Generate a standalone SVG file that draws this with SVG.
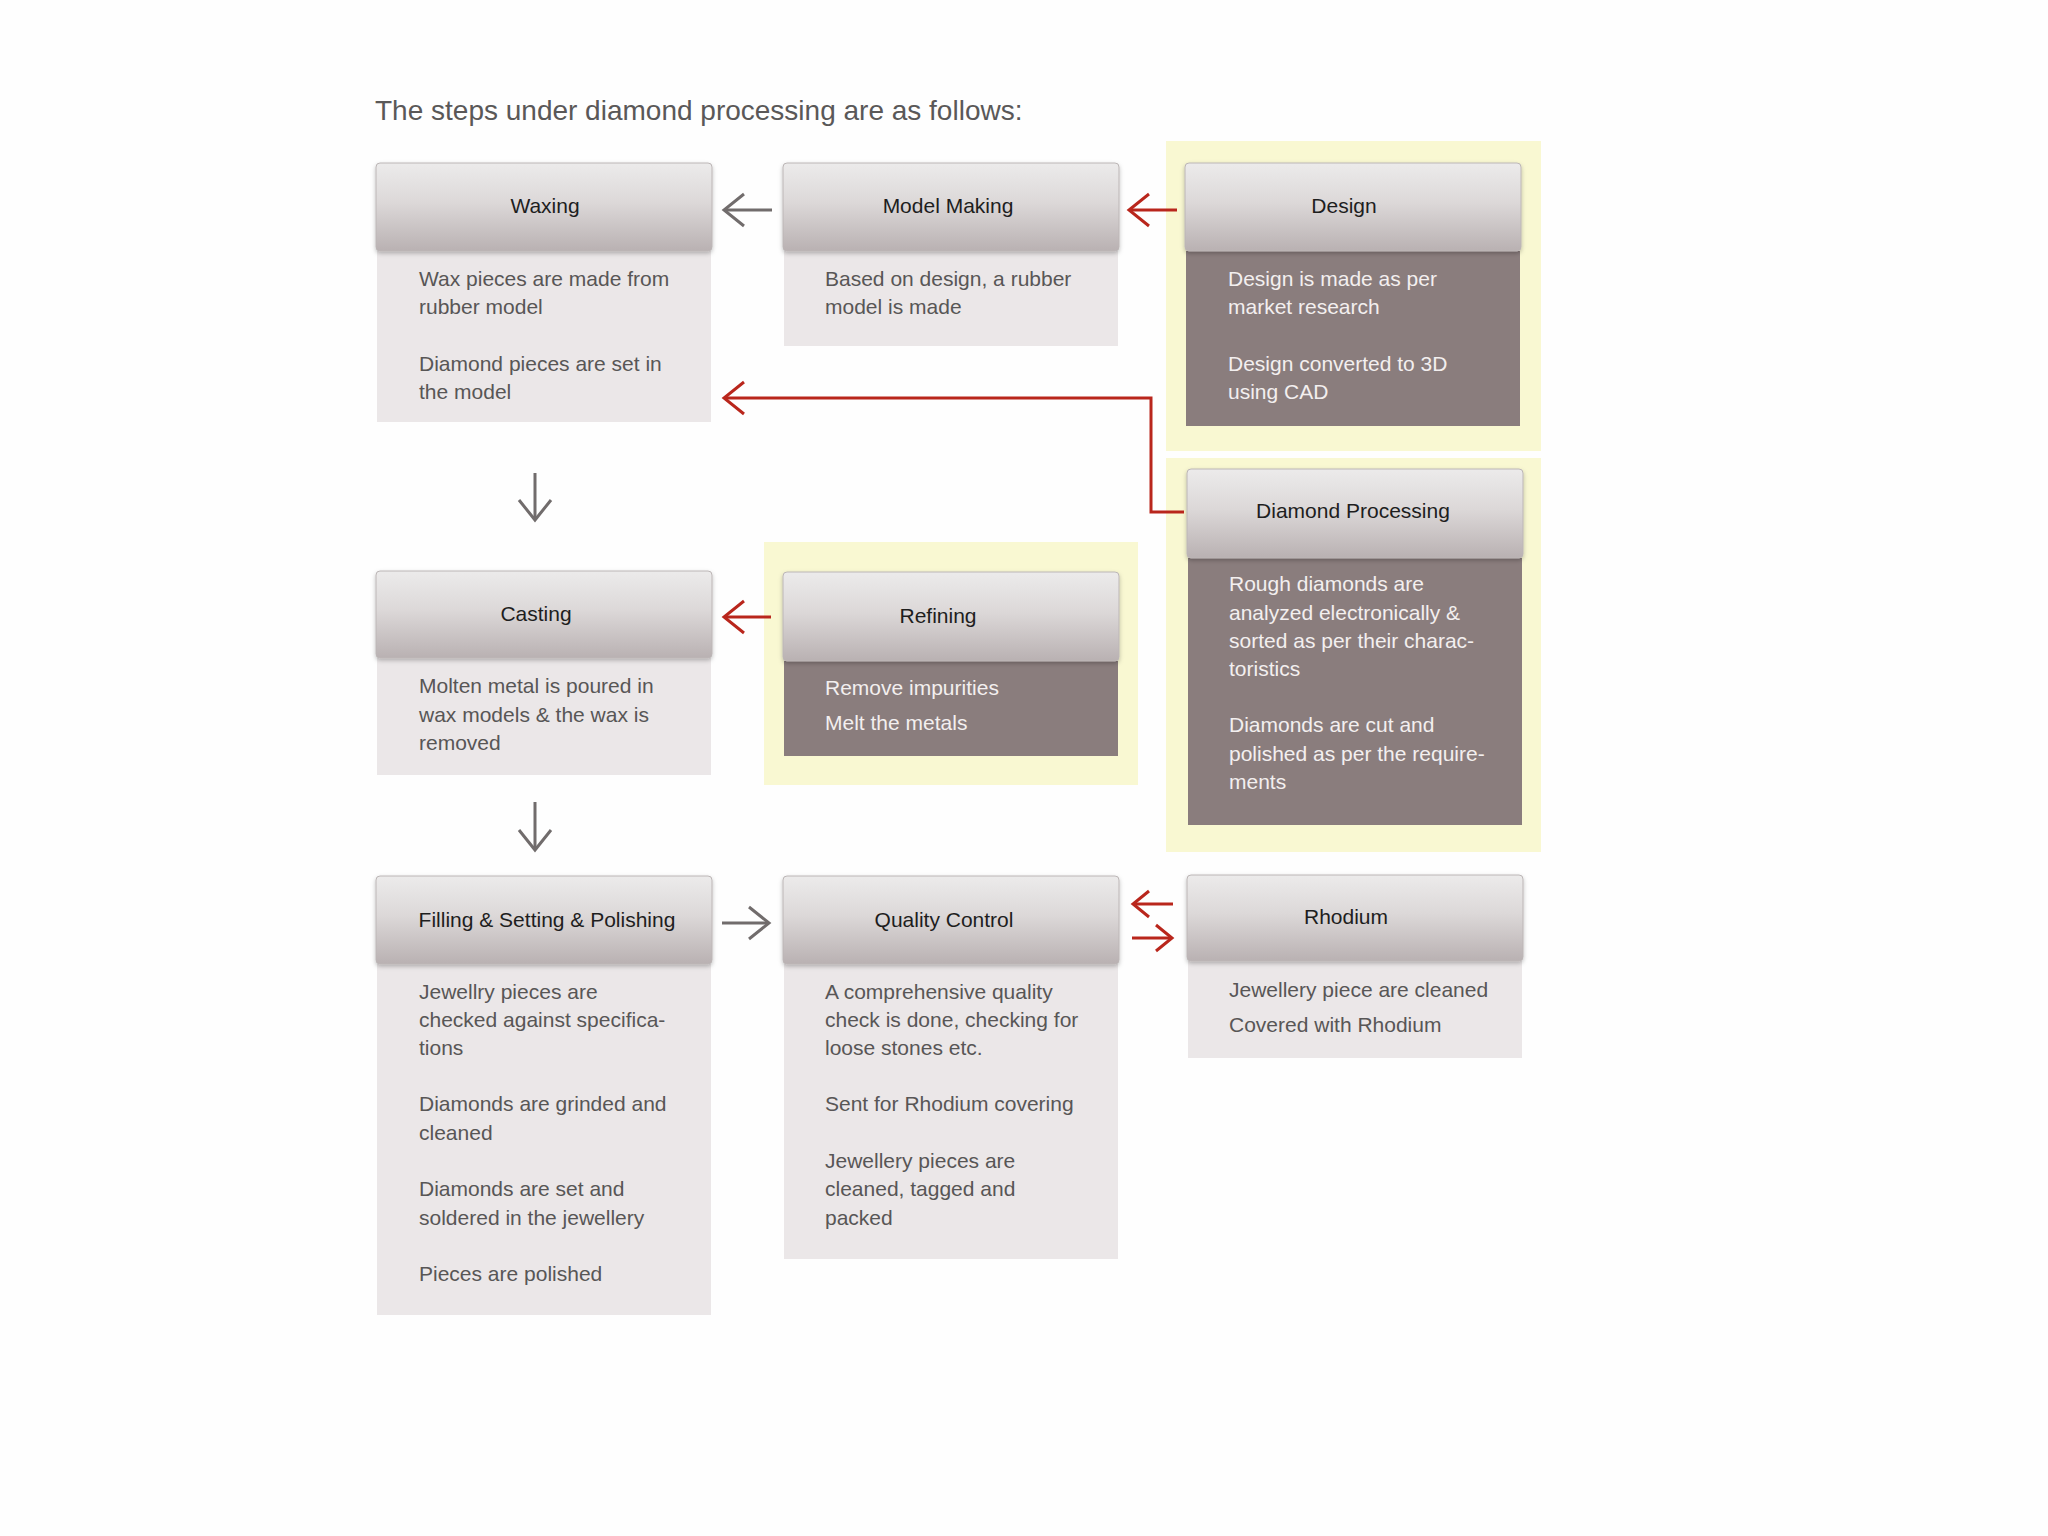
<svg xmlns="http://www.w3.org/2000/svg" width="2048" height="1536" viewBox="0 0 2048 1536">
<defs>
<linearGradient id="hg" x1="0" y1="0" x2="0" y2="1">
<stop offset="0" stop-color="#ecebeb"/>
<stop offset="0.45" stop-color="#dcd8d8"/>
<stop offset="1" stop-color="#b9b1b2"/>
</linearGradient>
<filter id="sh" x="-5%" y="-10%" width="110%" height="130%">
<feDropShadow dx="0" dy="2" stdDeviation="2" flood-color="#000" flood-opacity="0.25"/>
</filter>
<marker id="ag" viewBox="-24 -20 28 40" refX="0" refY="0" markerWidth="28" markerHeight="40" markerUnits="userSpaceOnUse" orient="auto">
<path d="M-20,-16 L0,0 L-20,16" fill="none" stroke="#716c6c" stroke-width="3"/>
</marker>
<marker id="ar" viewBox="-24 -20 28 40" refX="0" refY="0" markerWidth="28" markerHeight="40" markerUnits="userSpaceOnUse" orient="auto">
<path d="M-20,-16 L0,0 L-20,16" fill="none" stroke="#b9261c" stroke-width="3"/>
</marker>
<marker id="ars" viewBox="-20 -16 24 32" refX="0" refY="0" markerWidth="24" markerHeight="32" markerUnits="userSpaceOnUse" orient="auto">
<path d="M-16,-13 L0,0 L-16,13" fill="none" stroke="#b9261c" stroke-width="3"/>
</marker>
</defs>
<style>
.hd{fill:url(#hg);stroke:#bcb6b6;stroke-width:1;filter:url(#sh)}
.lb{fill:#ebe7e8}
.db{fill:#8a7d7d}
.yb{fill:#f9f8d2}
.ht{font-family:"Liberation Sans",Arial,sans-serif;font-size:21px;fill:#1e1e1e;text-anchor:middle}
.bt{font-family:"Liberation Sans",Arial,sans-serif;font-size:21px;fill:#585656}
.wt{font-family:"Liberation Sans",Arial,sans-serif;font-size:21px;fill:#f3efef}
.title{font-family:"Liberation Sans",Arial,sans-serif;font-size:28px;fill:#5a5858}
.cg{fill:none;stroke:#716c6c;stroke-width:3}
.cr{fill:none;stroke:#b9261c;stroke-width:3}
</style>
<rect width="2048" height="1536" fill="#fefefe"/>
<text class="title" x="375" y="120">The steps under diamond processing are as follows:</text>

<rect class="yb" x="1166" y="141" width="375" height="310"/>
<rect class="yb" x="1166" y="458" width="375" height="394"/>
<rect class="yb" x="764" y="542" width="374" height="243"/>

<g id="waxing">
<rect class="lb" x="377" y="251" width="334" height="171"/>
<rect class="hd" x="376" y="163" width="336" height="88" rx="4"/>
<text class="ht" x="545" y="213">Waxing</text>
<text class="bt" x="419" y="286">Wax pieces are made from</text>
<text class="bt" x="419" y="314">rubber model</text>
<text class="bt" x="419" y="371">Diamond pieces are set in</text>
<text class="bt" x="419" y="399">the model</text>
</g>

<g id="model-making">
<rect class="lb" x="784" y="251" width="334" height="95"/>
<rect class="hd" x="783" y="163" width="336" height="88" rx="4"/>
<text class="ht" x="948" y="213">Model Making</text>
<text class="bt" x="825" y="286">Based on design, a rubber</text>
<text class="bt" x="825" y="314">model is made</text>
</g>

<g id="design">
<rect class="db" x="1186" y="251" width="334" height="175"/>
<rect class="hd" x="1185" y="163" width="336" height="88" rx="4"/>
<text class="ht" x="1344" y="213">Design</text>
<text class="wt" x="1228" y="286">Design is made as per</text>
<text class="wt" x="1228" y="314">market research</text>
<text class="wt" x="1228" y="371">Design converted to 3D</text>
<text class="wt" x="1228" y="399">using CAD</text>
</g>

<g id="diamond-processing">
<rect class="db" x="1188" y="558" width="334" height="267"/>
<rect class="hd" x="1187" y="469" width="336" height="89" rx="4"/>
<text class="ht" x="1353" y="518">Diamond Processing</text>
<text class="wt" x="1229" y="591">Rough diamonds are</text>
<text class="wt" x="1229" y="620">analyzed electronically &amp;</text>
<text class="wt" x="1229" y="648">sorted as per their charac-</text>
<text class="wt" x="1229" y="676">toristics</text>
<text class="wt" x="1229" y="732">Diamonds are cut and</text>
<text class="wt" x="1229" y="761">polished as per the require-</text>
<text class="wt" x="1229" y="789">ments</text>
</g>

<g id="casting">
<rect class="lb" x="377" y="658" width="334" height="117"/>
<rect class="hd" x="376" y="571" width="336" height="87" rx="4"/>
<text class="ht" x="536" y="621">Casting</text>
<text class="bt" x="419" y="693">Molten metal is poured in</text>
<text class="bt" x="419" y="722">wax models &amp; the wax is</text>
<text class="bt" x="419" y="750">removed</text>
</g>

<g id="refining">
<rect class="db" x="784" y="661" width="334" height="95"/>
<rect class="hd" x="783" y="572" width="336" height="89" rx="4"/>
<text class="ht" x="938" y="623">Refining</text>
<text class="wt" x="825" y="695">Remove impurities</text>
<text class="wt" x="825" y="730">Melt the metals</text>
</g>

<g id="filling">
<rect class="lb" x="377" y="964" width="334" height="351"/>
<rect class="hd" x="376" y="876" width="336" height="88" rx="4"/>
<text class="ht" x="547" y="927">Filling &amp; Setting &amp; Polishing</text>
<text class="bt" x="419" y="999">Jewellry pieces are</text>
<text class="bt" x="419" y="1027">checked against specifica-</text>
<text class="bt" x="419" y="1055">tions</text>
<text class="bt" x="419" y="1111">Diamonds are grinded and</text>
<text class="bt" x="419" y="1140">cleaned</text>
<text class="bt" x="419" y="1196">Diamonds are set and</text>
<text class="bt" x="419" y="1225">soldered in the jewellery</text>
<text class="bt" x="419" y="1281">Pieces are polished</text>
</g>

<g id="quality-control">
<rect class="lb" x="784" y="964" width="334" height="295"/>
<rect class="hd" x="783" y="876" width="336" height="88" rx="4"/>
<text class="ht" x="944" y="927">Quality Control</text>
<text class="bt" x="825" y="999">A comprehensive quality</text>
<text class="bt" x="825" y="1027">check is done, checking for</text>
<text class="bt" x="825" y="1055">loose stones etc.</text>
<text class="bt" x="825" y="1111">Sent for Rhodium covering</text>
<text class="bt" x="825" y="1168">Jewellery pieces are</text>
<text class="bt" x="825" y="1196">cleaned, tagged and</text>
<text class="bt" x="825" y="1225">packed</text>
</g>

<g id="rhodium">
<rect class="lb" x="1188" y="961" width="334" height="97"/>
<rect class="hd" x="1187" y="875" width="336" height="86" rx="4"/>
<text class="ht" x="1346" y="924">Rhodium</text>
<text class="bt" x="1229" y="997">Jewellery piece are cleaned</text>
<text class="bt" x="1229" y="1032">Covered with Rhodium</text>
</g>

<g id="connectors">
<path class="cg" d="M772,210 L724,210" marker-end="url(#ag)"/>
<path class="cr" d="M1177,210 L1129,210" marker-end="url(#ar)"/>
<path class="cr" d="M1184,512 L1151,512 L1151,398 L724,398" marker-end="url(#ar)"/>
<path class="cg" d="M535,473 L535,520" marker-end="url(#ag)"/>
<path class="cr" d="M771,617 L724,617" marker-end="url(#ar)"/>
<path class="cg" d="M535,802 L535,850" marker-end="url(#ag)"/>
<path class="cg" d="M722,923 L769,923" marker-end="url(#ag)"/>
<path class="cr" d="M1173,904 L1133,904" marker-end="url(#ars)"/>
<path class="cr" d="M1132,938 L1172,938" marker-end="url(#ars)"/>
</g>
</svg>
